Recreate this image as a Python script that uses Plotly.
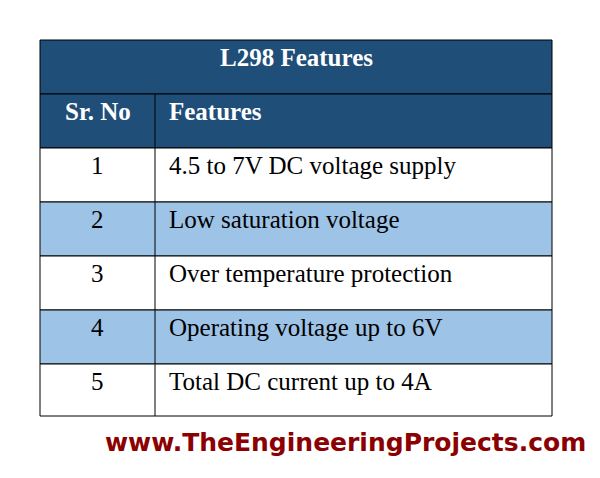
import plotly.graph_objects as go

title = "L298 Features"
col_headers = ["Sr. No", "Features"]
serials = ["1", "2", "3", "4", "5"]
features = ["4.5 to 7V DC voltage supply", "Low saturation voltage",
            "Over temperature protection", "Operating voltage up to 6V",
            "Total DC current up to 4A"]
footer = "www.TheEngineeringProjects.com"

OFF = 8
X0, X1, XS = 40 - OFF, 552 - OFF, 155 - OFF
Y0, RH, YEND = 40 - OFF, 54, 416 - OFF
DARK, LIGHT = "#1F4E79", "#9DC3E6"
serif = "Liberation Serif"
FS = 25

fig = go.Figure()
shapes, ann = [], []
def rect(y0, y1, fill):
    shapes.append(dict(type="rect", x0=X0, x1=X1, y0=y0, y1=y1, fillcolor=fill,
                       line=dict(color="black", width=1), layer="below"))
rect(Y0, Y0 + RH, DARK)
rect(Y0 + RH, Y0 + 2 * RH, DARK)
ann.append(dict(x=(X0 + X1) / 2, y=Y0 + 17, text="<b>%s</b>" % title,
                font=dict(family=serif, size=FS, color="white"), showarrow=False))
ann.append(dict(x=(X0 + XS) / 2, y=Y0 + RH + 17, text="<b>%s</b>" % col_headers[0],
                font=dict(family=serif, size=FS, color="white"), showarrow=False))
ann.append(dict(x=XS + 12, y=Y0 + RH + 17, text="<b>%s</b>" % col_headers[1], xanchor="left",
                font=dict(family=serif, size=FS, color="white"), showarrow=False))
for i, (s, f) in enumerate(zip(serials, features)):
    ya = Y0 + (i + 2) * RH
    yb = min(ya + RH, YEND)
    rect(ya, yb, LIGHT if i % 2 else "white")
    yt = ya + 17
    ann.append(dict(x=(X0 + XS) / 2, y=yt, text=s, showarrow=False,
                    font=dict(family=serif, size=FS, color="black")))
    ann.append(dict(x=XS + 12, y=yt, text=f, xanchor="left", showarrow=False,
                    font=dict(family=serif, size=FS, color="black")))
shapes.append(dict(type="line", x0=XS, x1=XS, y0=Y0 + RH, y1=YEND,
                   line=dict(color="black", width=1)))
ann.append(dict(x=345 - OFF, y=442 - OFF, text="<b>%s</b>" % footer, showarrow=False,
                font=dict(family="DejaVu Sans", size=25, color="#8B0000")))

fig.update_layout(width=600, height=478, margin=dict(l=0, r=0, t=0, b=0),
                  plot_bgcolor="white", paper_bgcolor="white",
                  shapes=shapes, annotations=ann, showlegend=False,
                  xaxis=dict(range=[0, 600], visible=False, fixedrange=True),
                  yaxis=dict(range=[478, 0], visible=False, fixedrange=True))
fig.write_html("out.html", config={"displayModeBar": False})
